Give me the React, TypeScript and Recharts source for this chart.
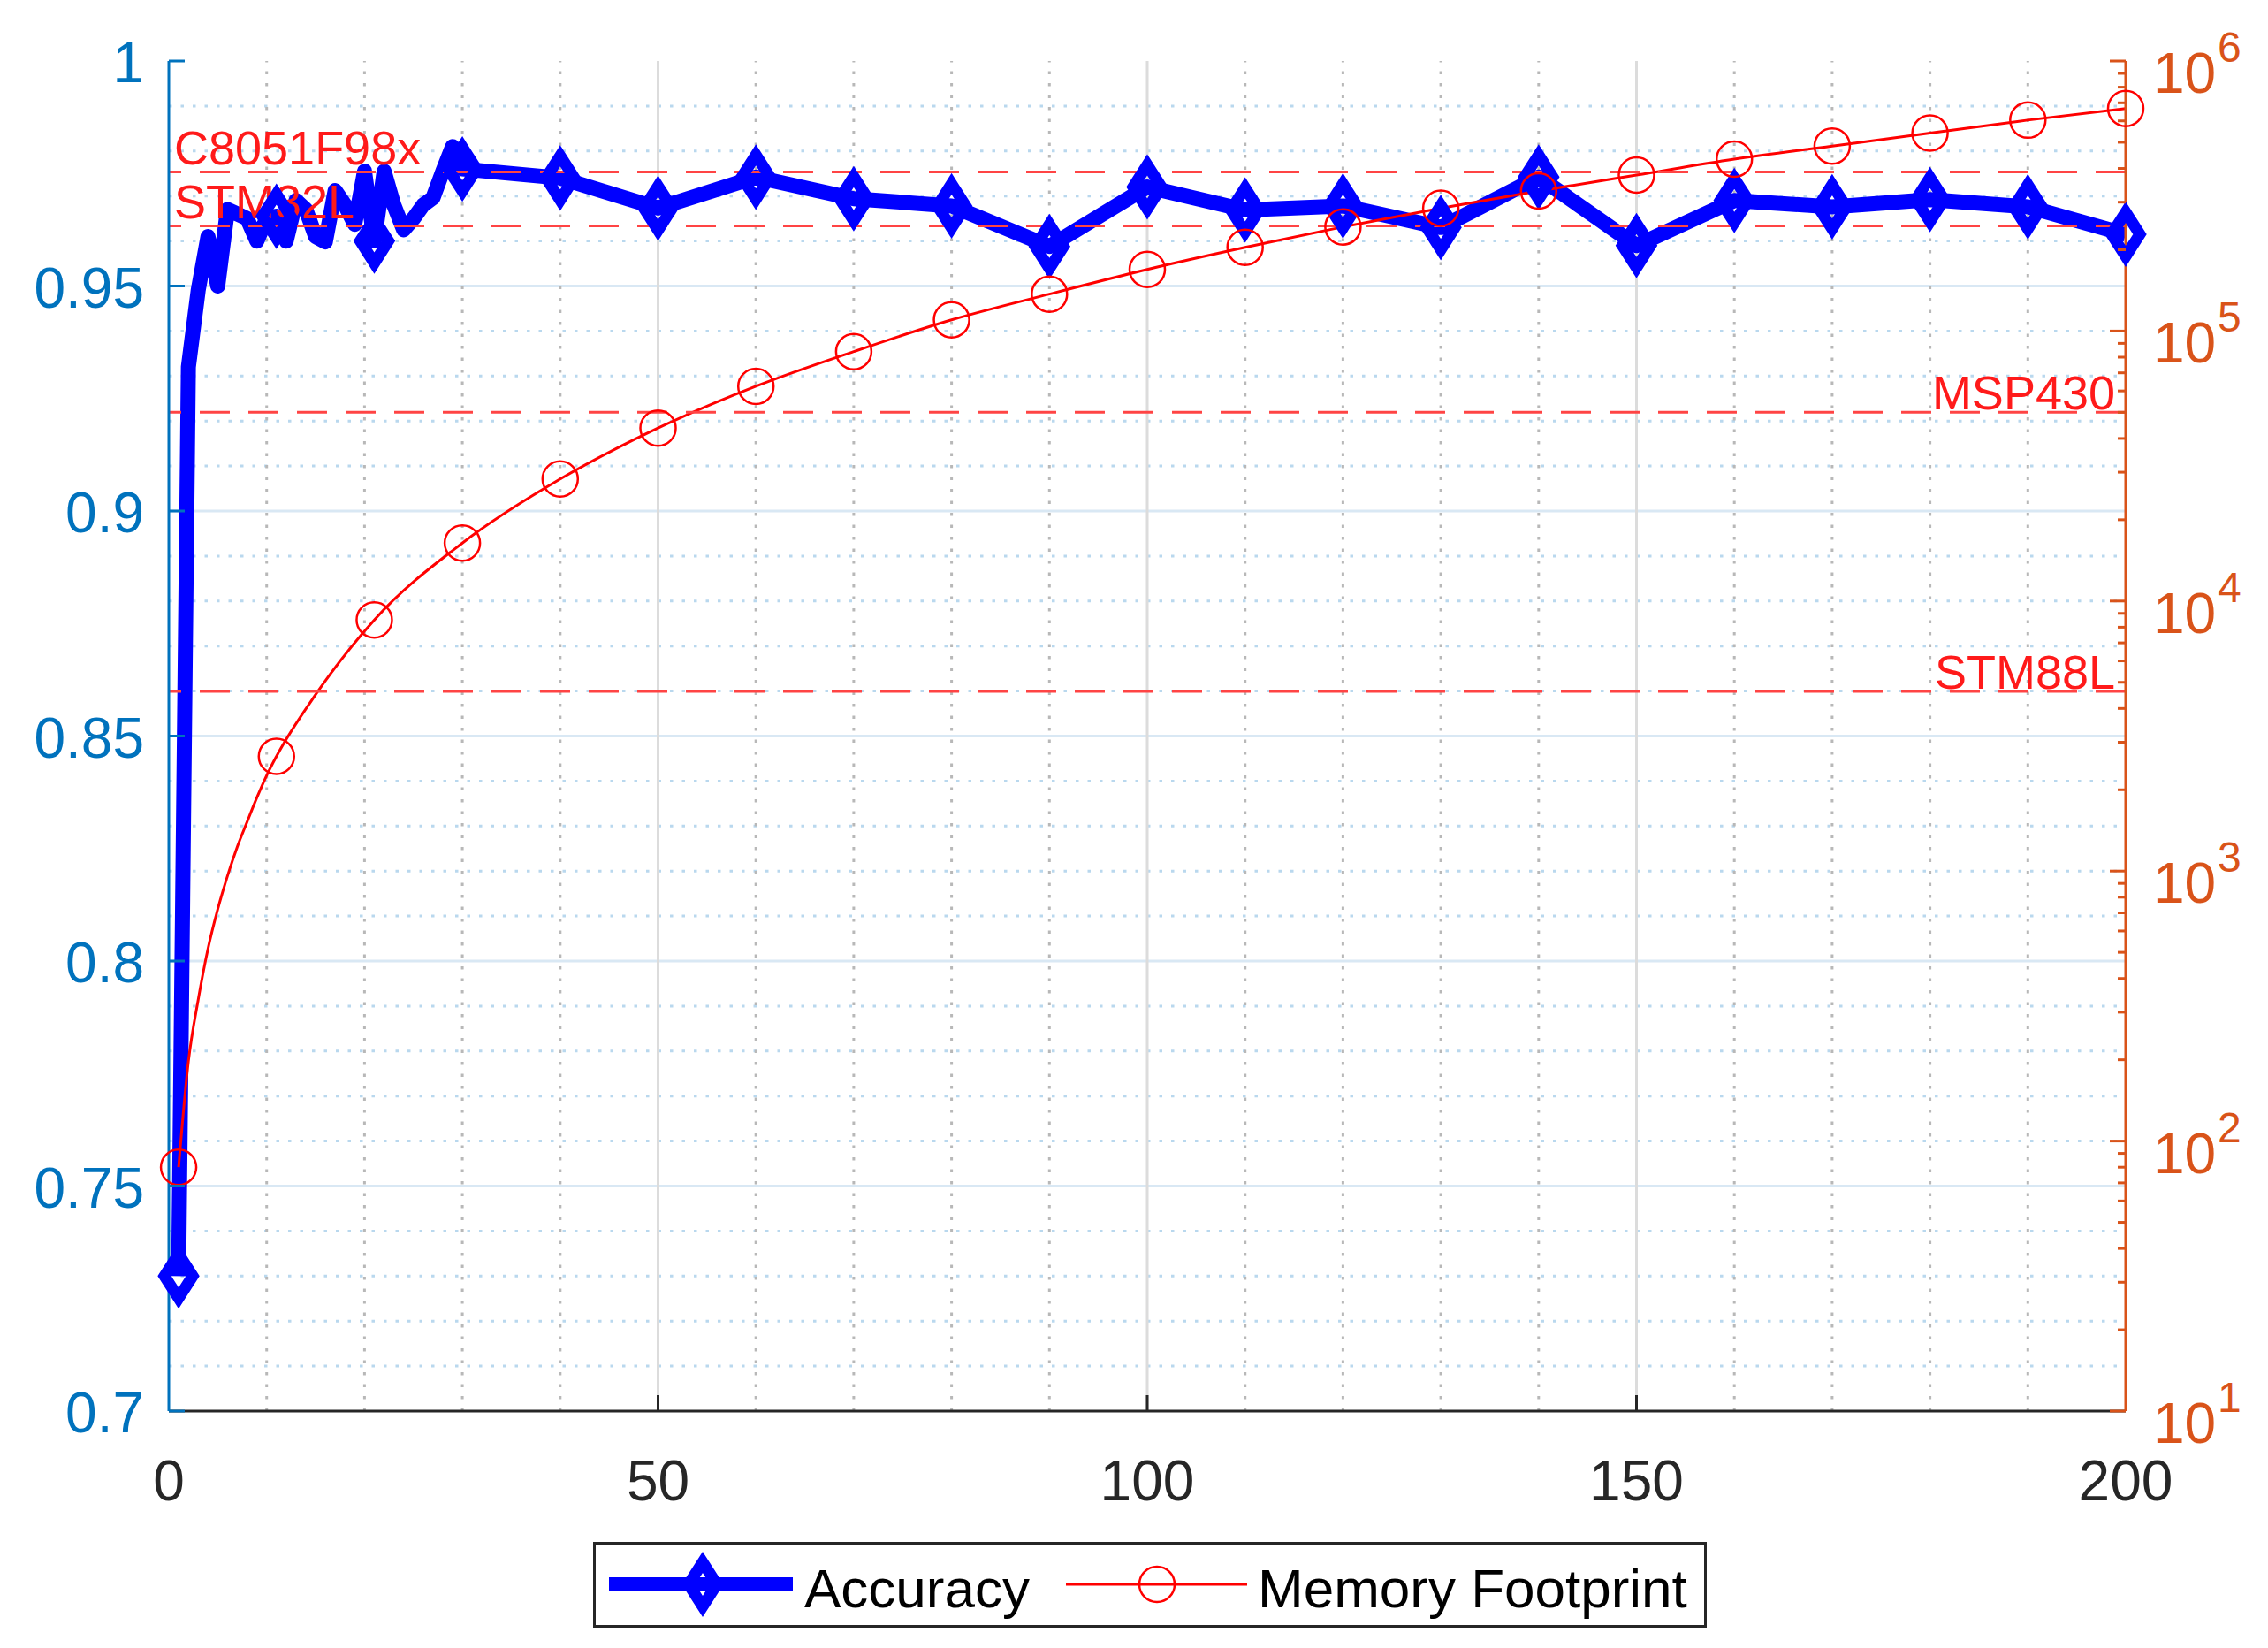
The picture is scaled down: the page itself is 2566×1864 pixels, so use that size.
import React from 'react';
import { ComposedChart, Line, XAxis, YAxis, ReferenceLine, Legend } from 'recharts';

const FONT = '"Liberation Sans", Arial, Helvetica, sans-serif';
const LEFT_COLOR = '#0072BD';
const RIGHT_COLOR = '#D95319';
const AXIS_BLACK = '#262626';

// accuracy, one value per evaluated epoch
const epochs = [
  1, 2, 3, 4, 5, 6, 7, 8, 9, 10, 11, 12, 13, 14, 15, 16, 17, 18, 19, 20,
  21, 22, 23, 24, 25, 26, 27, 28, 29, 30, 40, 50, 60, 70, 80, 90, 100, 110,
  120, 130, 140, 150, 160, 170, 180, 190, 200,
];
const accuracy = [
  0.73, 0.932, 0.949, 0.961, 0.95, 0.967, 0.966, 0.965, 0.96, 0.965, 0.9655,
  0.96, 0.969, 0.967, 0.961, 0.9598, 0.9712, 0.968, 0.9637, 0.9755, 0.96,
  0.9755, 0.968, 0.9625, 0.965, 0.968, 0.9696, 0.9755, 0.981, 0.976, 0.974,
  0.9673, 0.9742, 0.9694, 0.9678, 0.9588, 0.972, 0.9669, 0.9678, 0.963,
  0.9742, 0.959, 0.969, 0.9676, 0.9692, 0.9676, 0.9615,
];
const accuracyMarkers = [1, 11, 21, 30, 40, 50, 60, 70, 80, 90, 100, 110, 120, 130, 140, 150, 160, 170, 180, 190, 200];

// memory footprint (log axis)
const memEpochs = [
  1, 2, 3, 4, 5, 6, 7, 8, 9, 10, 11, 15, 21, 30, 40, 50, 60, 70, 80, 90, 100,
  110, 120, 130, 140, 150, 160, 170, 180, 190, 200,
];
const memFootprint = [
  80, 197, 333, 515, 722, 960, 1230, 1520, 1870, 2260, 2660, 4500, 8510,
  16400, 28300, 43700, 62400, 83900, 110000, 137000, 169000, 204000, 243000,
  285000, 330000, 378000, 433000, 484000, 541000, 604000, 667000,
];
const memMarkers = [1, 11, 21, 30, 40, 50, 60, 70, 80, 90, 100, 110, 120, 130, 140, 150, 160, 170, 180, 190, 200];

// device limits drawn as dashed lines
const deviceNames = ['C8051F98x', 'STM32L', 'MSP430', 'STM88L'];
const deviceLimits = [388000, 245000, 50000, 4630];
const deviceLabelSide = ['left', 'left', 'right', 'right'];

// axes
const xTicks = [0, 50, 100, 150, 200];
const xMinor = [10, 20, 30, 40, 60, 70, 80, 90, 110, 120, 130, 140, 160, 170, 180, 190];
const accTicks = [0.7, 0.75, 0.8, 0.85, 0.9, 0.95, 1];
const accMinor = [
  0.71, 0.72, 0.73, 0.74, 0.76, 0.77, 0.78, 0.79, 0.81, 0.82, 0.83, 0.84,
  0.86, 0.87, 0.88, 0.89, 0.91, 0.92, 0.93, 0.94, 0.96, 0.97, 0.98, 0.99,
];
const memDecades = [10, 100, 1000, 10000, 100000, 1000000];
const memTicks = memDecades.flatMap((d, i) =>
  i === memDecades.length - 1 ? [d] : [d, 2 * d, 3 * d, 4 * d, 5 * d, 6 * d, 7 * d, 8 * d, 9 * d]
);

const accData = epochs.map((x, i) => ({ x, acc: accuracy[i] }));
const memData = memEpochs.map((x, i) => ({ x, mem: memFootprint[i] }));
const accMarkSet = new Set(accuracyMarkers);
const memMarkSet = new Set(memMarkers);

const diamond = (cx: number, cy: number, hw: number, hh: number) =>
  `M${cx},${cy - hh}L${cx + hw},${cy}L${cx},${cy + hh}L${cx - hw},${cy}Z`;

const AccuracyDot = (props: any) => {
  const { cx, cy, payload, index } = props;
  if (cx == null || !accMarkSet.has(payload.x)) return <g key={`ad-${index}`} />;
  return (
    <path key={`ad-${index}`} d={diamond(cx, cy, 16, 25)} fill="none"
      stroke="#0000ff" strokeWidth={13} strokeLinejoin="miter" />
  );
};

const MemoryDot = (props: any) => {
  const { cx, cy, payload, index } = props;
  if (cx == null || !memMarkSet.has(payload.x)) return <g key={`md-${index}`} />;
  return <circle key={`md-${index}`} cx={cx} cy={cy} r={20} fill="none" stroke="#ff0000" strokeWidth={2.5} />;
};

const LeftTick = ({ x, y, payload }: any) => (
  <g>
    <line x1={x} x2={x + 18} y1={y} y2={y} stroke={LEFT_COLOR} strokeWidth={3} />
    <text x={x - 28} y={y + 24} textAnchor="end" fontSize={64} fontFamily={FONT} fill={LEFT_COLOR}>
      {String(payload.value)}
    </text>
  </g>
);

const RightTick = ({ x, y, payload }: any) => {
  const v = payload.value;
  const exp = Math.round(Math.log10(v));
  const major = Math.abs(Math.pow(10, exp) - v) < 1e-6;
  return (
    <g>
      <line x1={x - (major ? 18 : 9)} x2={x} y1={y} y2={y} stroke={RIGHT_COLOR} strokeWidth={3} />
      {major && (
        <text x={x + 31} y={y + 36} fontSize={64} fontFamily={FONT} fill={RIGHT_COLOR}>
          10
          <tspan x={x + 104} y={y + 1} fontSize={48}>{exp}</tspan>
        </text>
      )}
    </g>
  );
};

const BottomTick = ({ x, y, payload }: any) => {
  const v = payload.value;
  const inner = v > 0 && v < 200;
  return (
    <g>
      {inner && <line x1={x} x2={x} y1={y} y2={y - 18} stroke={AXIS_BLACK} strokeWidth={3} />}
      <text x={x} y={y + 101} textAnchor="middle" fontSize={64} fontFamily={FONT} fill={AXIS_BLACK}>
        {String(v)}
      </text>
    </g>
  );
};

const TopTick = ({ x, y }: any) => (
  <line x1={x} x2={x} y1={y} y2={y + 18} stroke={AXIS_BLACK} strokeWidth={3} />
);

const DeviceLabel = ({ viewBox, name, side }: any) => {
  if (!viewBox) return null;
  const left = side === 'left';
  return (
    <text
      x={left ? viewBox.x + 6 : viewBox.x + viewBox.width - 12}
      y={left ? viewBox.y - 9 : viewBox.y - 3}
      textAnchor={left ? 'start' : 'end'}
      fontSize={54}
      fontFamily={FONT}
      fill="#ff1a1a"
    >
      {name}
    </text>
  );
};

const LegendBox = () => (
  <div style={{ position: 'relative', width: 1260, height: 97, boxSizing: 'border-box', border: `3px solid ${AXIS_BLACK}`, background: '#fff' }}>
    <svg width={1260} height={97} style={{ position: 'absolute', left: -3, top: -3 }}>
      <line x1={18} x2={226} y1={48} y2={48} stroke="#0000ff" strokeWidth={16} />
      <path d={diamond(124, 48, 16, 25)} fill="none" stroke="#0000ff" strokeWidth={13} />
      <text x={239} y={74} fontSize={62} fontFamily={FONT} fill="#000">Accuracy</text>
      <line x1={535} x2={740} y1={48} y2={48} stroke="#ff0000" strokeWidth={3} />
      <circle cx={638} cy={48} r={20} fill="none" stroke="#ff0000" strokeWidth={2.5} />
      <text x={752} y={74} fontSize={62} fontFamily={FONT} fill="#000">Memory Footprint</text>
    </svg>
  </div>
);

const App: React.FC = () => {
  return (
    <div style={{ position: 'absolute', left: 0, top: 0, width: 2566, height: 1864, background: '#fff' }}>
      <ComposedChart width={2566} height={1864} margin={{ top: 69, right: 0, bottom: 23, left: 0 }}>
        <XAxis
          xAxisId="bottom"
          type="number"
          dataKey="x"
          domain={[0, 200]}
          ticks={xTicks}
          interval={0}
          height={148}
          tickSize={0}
          tickMargin={0}
          tickLine={false}
          tick={<BottomTick />}
          axisLine={{ stroke: AXIS_BLACK, strokeWidth: 3 }}
        />
        <XAxis
          xAxisId="top"
          orientation="top"
          type="number"
          dataKey="x"
          domain={[0, 200]}
          ticks={[50, 100, 150]}
          interval={0}
          height={0}
          tickSize={0}
          tickMargin={0}
          tickLine={false}
          tick={<TopTick />}
          axisLine={{ stroke: AXIS_BLACK, strokeWidth: 3 }}
        />
        <YAxis
          yAxisId="left"
          type="number"
          domain={[0.7, 1]}
          ticks={accTicks}
          interval={0}
          width={191}
          tickSize={0}
          tickMargin={0}
          tickLine={false}
          tick={<LeftTick />}
          axisLine={{ stroke: LEFT_COLOR, strokeWidth: 3 }}
        />
        <YAxis
          yAxisId="right"
          orientation="right"
          type="number"
          scale="log"
          domain={[10, 1000000]}
          ticks={memTicks}
          interval={0}
          width={161}
          tickSize={0}
          tickMargin={0}
          tickLine={false}
          tick={<RightTick />}
          axisLine={{ stroke: RIGHT_COLOR, strokeWidth: 3 }}
        />

        {accMinor.map((v) => (
          <ReferenceLine key={`ym-${v}`} xAxisId="bottom" yAxisId="left" y={v}
            stroke="#b9d8ee" strokeWidth={3} strokeDasharray="3.5 10" />
        ))}
        {accTicks.slice(1, -1).map((v) => (
          <ReferenceLine key={`yM-${v}`} xAxisId="bottom" yAxisId="left" y={v}
            stroke="#d9e8f4" strokeWidth={3} />
        ))}
        {xMinor.map((v) => (
          <ReferenceLine key={`xm-${v}`} xAxisId="bottom" yAxisId="left" x={v}
            stroke="#b8b8b8" strokeWidth={3} strokeDasharray="3.5 10" />
        ))}
        {xTicks.slice(1, -1).map((v) => (
          <ReferenceLine key={`xM-${v}`} xAxisId="bottom" yAxisId="left" x={v}
            stroke="#dcdcdc" strokeWidth={3} />
        ))}

        <Line
          data={accData}
          xAxisId="bottom"
          yAxisId="left"
          dataKey="acc"
          type="linear"
          stroke="#0000ff"
          strokeWidth={17}
          strokeLinejoin="round"
          dot={AccuracyDot}
          activeDot={false}
          isAnimationActive={false}
          legendType="none"
        />
        <Line
          data={memData}
          xAxisId="bottom"
          yAxisId="right"
          dataKey="mem"
          type="monotone"
          stroke="#ff0000"
          strokeWidth={3}
          dot={MemoryDot}
          activeDot={false}
          isAnimationActive={false}
          legendType="none"
        />

        {deviceLimits.map((v, i) => (
          <ReferenceLine
            key={deviceNames[i]}
            xAxisId="bottom"
            yAxisId="right"
            y={v}
            stroke="#ff4444"
            strokeWidth={3}
            strokeDasharray="34 21"
            label={<DeviceLabel name={deviceNames[i]} side={deviceLabelSide[i]} />}
          />
        ))}

        <Legend
          verticalAlign="bottom"
          content={() => <LegendBox />}
          wrapperStyle={{ left: 671, bottom: 23, width: 1260, height: 97 }}
        />
      </ComposedChart>
    </div>
  );
};

export default App;
